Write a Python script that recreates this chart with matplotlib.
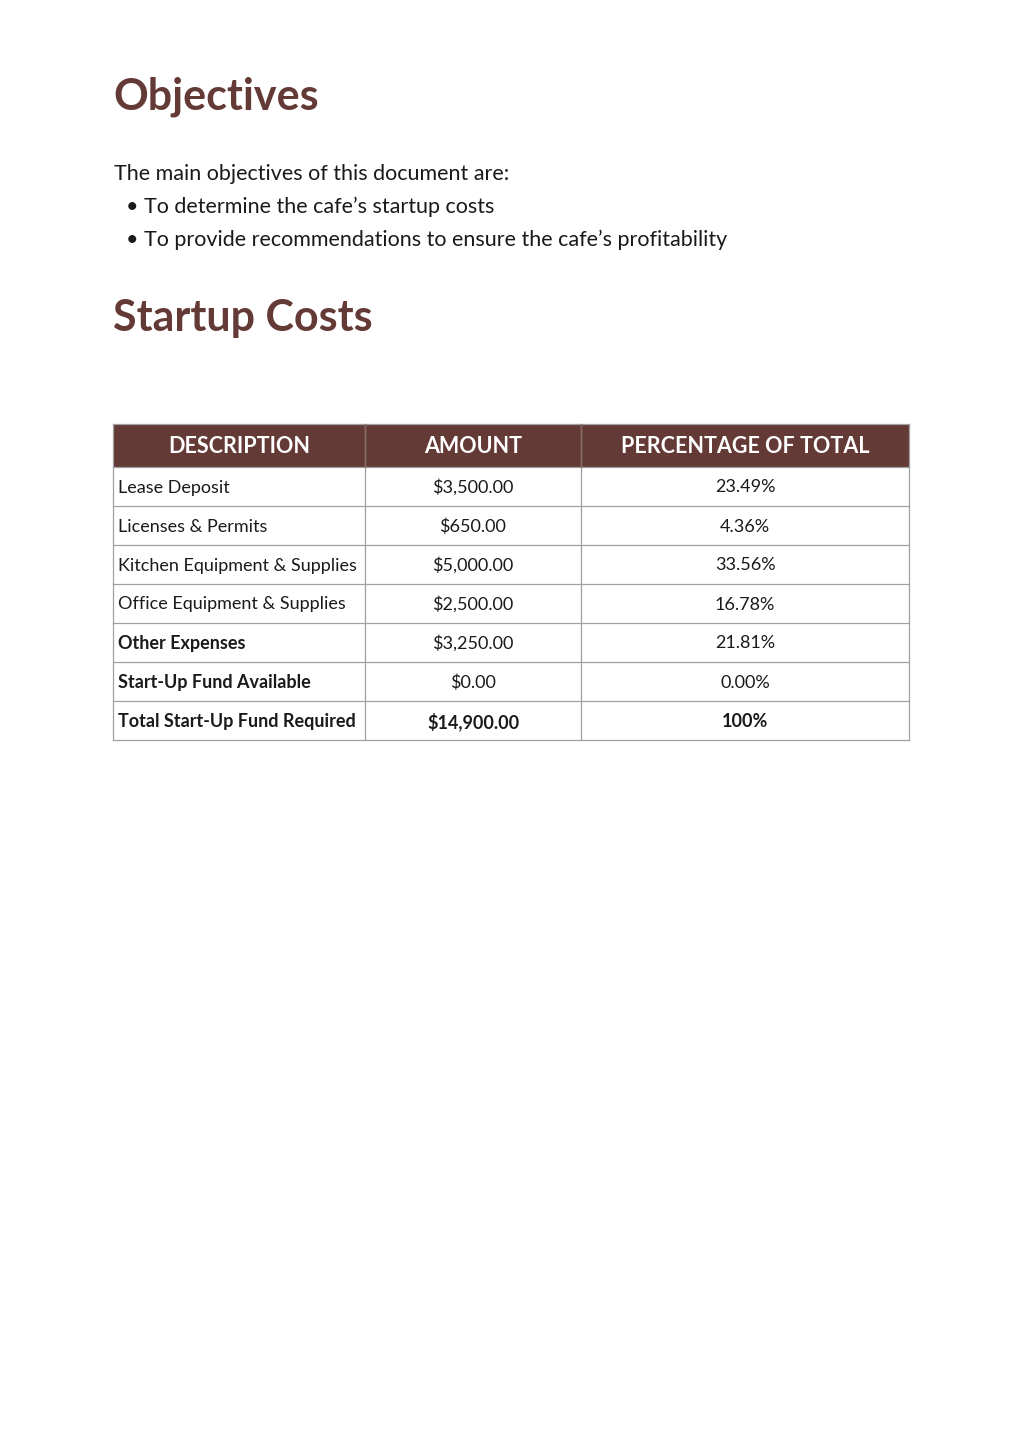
import matplotlib
matplotlib.use("Agg")
import matplotlib.pyplot as plt
from matplotlib.patches import Rectangle

plt.rcParams['font.family'] = ['Lato', 'DejaVu Sans']

headers = ["DESCRIPTION", "AMOUNT", "PERCENTAGE OF TOTAL"]
descriptions = ["Lease Deposit", "Licenses & Permits", "Kitchen Equipment & Supplies",
                "Office Equipment & Supplies", "Other Expenses", "Start-Up Fund Available",
                "Total Start-Up Fund Required"]
amounts = ["$3,500.00", "$650.00", "$5,000.00", "$2,500.00", "$3,250.00", "$0.00", "$14,900.00"]
percentages = ["23.49%", "4.36%", "33.56%", "16.78%", "21.81%", "0.00%", "100%"]
bold_desc = [False, False, False, False, True, True, True]
bold_vals = [False, False, False, False, False, False, True]
bullets = ["To determine the cafe\u2019s startup costs",
           "To provide recommendations to ensure the cafe\u2019s profitability"]

BROWN = "#643A36"
TXT = "#1a1a1a"
fig = plt.figure(figsize=(10.24, 14.46), dpi=100)
ax = fig.add_axes([0, 0, 1, 1])
ax.set_xlim(0, 1024); ax.set_ylim(1446, 0); ax.axis('off')

ax.text(113, 97, "Objectives", fontsize=31, fontweight='bold', color=BROWN, va='center', ha='left')
ax.text(114, 174, "The main objectives of this document are:", fontsize=15.5, color=TXT, va='center')
for i, b in enumerate(bullets):
    y = 207 + i * 33
    ax.text(126, y, "\u2022", fontsize=15.5, color=TXT, va='center')
    ax.text(144, y, b, fontsize=15.5, color=TXT, va='center')
ax.text(113, 318, "Startup Costs", fontsize=31, fontweight='bold', color=BROWN, va='center')

xs = [113, 365, 581, 909]
top, hh, rh = 424, 43, 39
ax.add_patch(Rectangle((xs[0], top), xs[-1] - xs[0], hh, color=BROWN, lw=0))
for j, h in enumerate(headers):
    ax.text((xs[j] + xs[j + 1]) / 2, top + hh / 2 + 1, h, fontsize=15.5, color='white',
            fontweight='bold', ha='center', va='center')
bottom = top + hh + rh * len(descriptions)
lc = "#a0a0a0"
for i in range(len(descriptions) + 1):
    y = top + hh + i * rh
    ax.plot([xs[0], xs[-1]], [y, y], color=lc, lw=0.9)
ax.plot([xs[0], xs[-1]], [top, top], color=lc, lw=0.9)
for x in xs:
    ax.plot([x, x], [top if x in (xs[0], xs[-1]) else top, bottom], color=lc if x in (xs[0], xs[-1]) else ("white" if False else lc), lw=0.9)
for x in xs[1:-1]:
    ax.plot([x, x], [top, top + hh], color="#8a6a66", lw=0.9)
for i, d in enumerate(descriptions):
    y = top + hh + i * rh + rh / 2 + 1
    ax.text(118, y, d, fontsize=13, color=TXT, va='center', fontweight='bold' if bold_desc[i] else 'normal')
    ax.text((xs[1] + xs[2]) / 2, y, amounts[i], fontsize=13, color=TXT, ha='center', va='center',
            fontweight='bold' if bold_vals[i] else 'normal')
    ax.text((xs[2] + xs[3]) / 2, y, percentages[i], fontsize=13, color=TXT, ha='center', va='center',
            fontweight='bold' if bold_vals[i] else 'normal')

fig.savefig("out.png", dpi=100, facecolor='white')
